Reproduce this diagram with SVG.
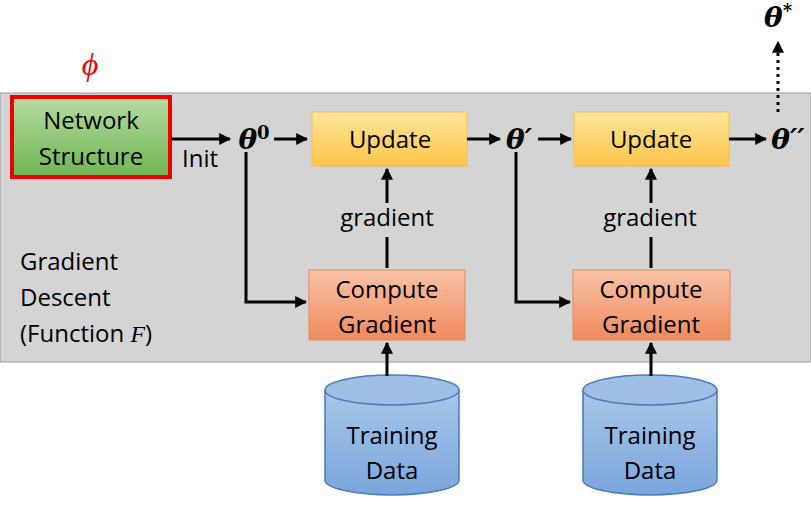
<svg xmlns="http://www.w3.org/2000/svg" width="811" height="506" viewBox="0 0 811 506">
<defs>
<linearGradient id="gG" x1="0" y1="0" x2="0" y2="1"><stop offset="0" stop-color="#b5dca0"/><stop offset="1" stop-color="#6fb553"/></linearGradient>
<linearGradient id="gY" x1="0" y1="0" x2="0" y2="1"><stop offset="0" stop-color="#ffe59a"/><stop offset="1" stop-color="#fcc64a"/></linearGradient>
<linearGradient id="gO" x1="0" y1="0" x2="0" y2="1"><stop offset="0" stop-color="#f9c3a6"/><stop offset="1" stop-color="#ef8a5e"/></linearGradient>
<linearGradient id="gB" x1="0" y1="0" x2="0" y2="1"><stop offset="0" stop-color="#a9c6ea"/><stop offset="1" stop-color="#7aa6dc"/></linearGradient>
<marker id="ah" viewBox="0 0 10 10" refX="9" refY="5" markerWidth="4" markerHeight="4" orient="auto"><path d="M0,0L10,5L0,10z" fill="#000"/></marker>
</defs>
<style>
.t{font-family:"Open Sans","Liberation Sans",sans-serif;font-size:24px;fill:#000;text-anchor:middle}
.l{font-family:"Open Sans","Liberation Sans",sans-serif;font-size:24px;fill:#000}
.m{font-family:"DejaVu Serif","Liberation Serif",serif;font-size:28px;font-weight:bold;font-style:italic;fill:#000;text-anchor:middle}
.c{stroke:#000;stroke-width:3;fill:none}
</style>
<rect x="0" y="93" width="811" height="269" fill="#d4d4d4" stroke="#9a9a9a"/>
<text x="90" y="75" font-family="Liberation Serif,serif" font-style="italic" font-size="32" fill="#e00" text-anchor="middle">ϕ</text>
<g id="net"><rect x="12" y="97" width="158" height="80" fill="url(#gG)" stroke="#e00" stroke-width="4"/><text class="t" x="91" y="129">Network</text><text class="t" x="91" y="165">Structure</text></g>
<g id="theta0"><text class="m" x="254" y="149">θ<tspan font-size="18" dy="-10" font-style="normal">0</tspan></text></g>
<g id="upd1"><rect x="312" y="112" width="155" height="54" fill="url(#gY)" stroke="#f0c050"/><text class="t" x="390" y="148">Update</text></g>
<g id="theta1"><text class="m" x="519" y="149">θ′</text></g>
<g id="upd2"><rect x="574" y="112" width="155" height="54" fill="url(#gY)" stroke="#f0c050"/><text class="t" x="651" y="148">Update</text></g>
<g id="theta2"><text class="m" x="788" y="149">θ′′</text></g>
<g id="thetas"><text class="m" x="778" y="27">θ<tspan font-size="18" dy="-10" font-style="normal">*</tspan></text></g>
<g id="cg1"><rect x="309" y="270" width="156" height="70" fill="url(#gO)" stroke="#e08a60"/><text class="t" x="387" y="298">Compute</text><text class="t" x="387" y="333">Gradient</text></g>
<g id="cg2"><rect x="573" y="270" width="157" height="70" fill="url(#gO)" stroke="#e08a60"/><text class="t" x="651" y="298">Compute</text><text class="t" x="651" y="333">Gradient</text></g>
<g id="td1"><path d="M325,390 V480 A67,15 0 0 0 459,480 V390" fill="url(#gB)" stroke="#4a7ab8" stroke-width="1.5"/><ellipse cx="392" cy="390" rx="67" ry="15" fill="#9fbfe6" stroke="#4a7ab8" stroke-width="1.5"/><text class="t" x="392" y="444">Training</text><text class="t" x="392" y="479">Data</text></g>
<g id="td2"><path d="M583,390 V480 A67,15 0 0 0 717,480 V390" fill="url(#gB)" stroke="#4a7ab8" stroke-width="1.5"/><ellipse cx="650" cy="390" rx="67" ry="15" fill="#9fbfe6" stroke="#4a7ab8" stroke-width="1.5"/><text class="t" x="650" y="444">Training</text><text class="t" x="650" y="479">Data</text></g>
<text class="l" x="20" y="270">Gradient</text>
<text class="l" x="20" y="306">Descent</text>
<text class="l" x="20" y="342">(Function <tspan font-family="Liberation Serif,serif" font-style="italic">F</tspan>)</text>
<text class="t" x="200" y="167">Init</text>
<text class="t" x="387" y="226">gradient</text>
<text class="t" x="650" y="226">gradient</text>
<g id="connectors">
<path class="c" d="M171,139H230" marker-end="url(#ah)"/>
<path class="c" d="M274,139H307" marker-end="url(#ah)"/>
<path class="c" d="M467,139H500" marker-end="url(#ah)"/>
<path class="c" d="M538,139H571" marker-end="url(#ah)"/>
<path class="c" d="M729,139H766" marker-end="url(#ah)"/>
<path class="c" d="M778,112V42" stroke-dasharray="3,4" marker-end="url(#ah)"/>
<path class="c" d="M246,152V302H306" marker-end="url(#ah)"/>
<path class="c" d="M516,152V302H570" marker-end="url(#ah)"/>
<path class="c" d="M387,268V237"/>
<path class="c" d="M387,203V169" marker-end="url(#ah)"/>
<path class="c" d="M651,268V237"/>
<path class="c" d="M651,203V169" marker-end="url(#ah)"/>
<path class="c" d="M387,376V343" marker-end="url(#ah)"/>
<path class="c" d="M651,376V343" marker-end="url(#ah)"/>
</g>
</svg>
